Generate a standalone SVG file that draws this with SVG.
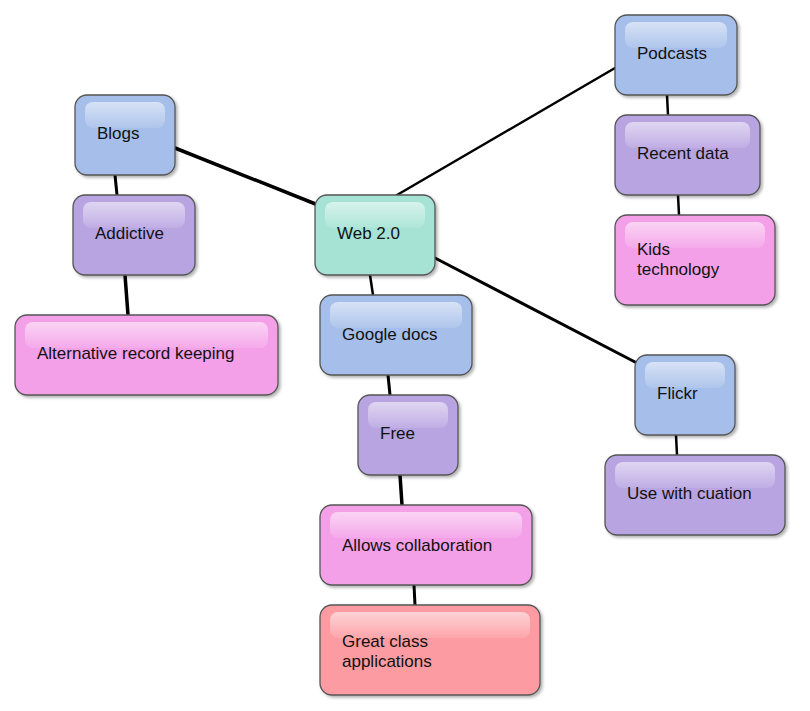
<svg xmlns="http://www.w3.org/2000/svg" width="810" height="711" viewBox="0 0 810 711">
<defs>
<linearGradient id="gl" x1="0" y1="0" x2="0" y2="1"><stop offset="0" stop-color="#fff" stop-opacity="0.55"/><stop offset="1" stop-color="#fff" stop-opacity="0.1"/></linearGradient>
<filter id="sh" x="-10%" y="-10%" width="130%" height="130%"><feDropShadow dx="2" dy="2" stdDeviation="1.5" flood-opacity="0.3"/></filter>
</defs>
<style>
.b{stroke:#555;stroke-width:1.3;filter:url(#sh)}
.g{fill:url(#gl)}
.blue{fill:#a6bfea}.purple{fill:#b9a4e2}.pink{fill:#f4a0e8}.teal{fill:#a6e3d4}.red{fill:#fc9ca2}
text{font-family:"Liberation Sans",Arial,sans-serif;font-size:17px;fill:#111}
.c line{stroke:#000;stroke-linecap:round}
</style>
<rect width="810" height="711" fill="#fff"/>
<g class="c">
<line x1="175" y1="148" x2="318" y2="205" stroke-width="3.5"/>
<line x1="615" y1="68" x2="397" y2="195" stroke-width="2.5"/>
<line x1="435" y1="258" x2="635" y2="362" stroke-width="3"/>
<line x1="370" y1="275" x2="373" y2="295" stroke-width="2.5"/>
<line x1="115" y1="175" x2="117" y2="195" stroke-width="3"/>
<line x1="125" y1="275" x2="128" y2="315" stroke-width="3.5"/>
<line x1="667" y1="95" x2="668" y2="115" stroke-width="2.5"/>
<line x1="678" y1="195" x2="679" y2="215" stroke-width="2.5"/>
<line x1="388" y1="375" x2="390" y2="395" stroke-width="3"/>
<line x1="400" y1="475" x2="402" y2="505" stroke-width="3.5"/>
<line x1="676" y1="435" x2="677" y2="455" stroke-width="2.5"/>
<line x1="414" y1="585" x2="415" y2="605" stroke-width="3"/>
</g>
<g id="podcasts"><rect class="b blue" x="615" y="15" width="122" height="80" rx="12"/><rect class="g" x="625" y="22" width="102" height="26" rx="8"/><text x="637" y="59">Podcasts</text></g>
<g id="blogs"><rect class="b blue" x="75" y="95" width="100" height="80" rx="12"/><rect class="g" x="85" y="102" width="80" height="26" rx="8"/><text x="97" y="139">Blogs</text></g>
<g id="recent"><rect class="b purple" x="615" y="115" width="145" height="80" rx="12"/><rect class="g" x="625" y="122" width="125" height="26" rx="8"/><text x="637" y="159">Recent data</text></g>
<g id="addictive"><rect class="b purple" x="73" y="195" width="122" height="80" rx="12"/><rect class="g" x="83" y="202" width="102" height="26" rx="8"/><text x="95" y="239">Addictive</text></g>
<g id="web"><rect class="b teal" x="315" y="195" width="120" height="80" rx="12"/><rect class="g" x="325" y="202" width="100" height="26" rx="8"/><text x="337" y="239">Web 2.0</text></g>
<g id="kids"><rect class="b pink" x="615" y="215" width="160" height="90" rx="12"/><rect class="g" x="625" y="222" width="140" height="26" rx="8"/><text x="637" y="255">Kids</text><text x="637" y="275">technology</text></g>
<g id="alt"><rect class="b pink" x="15" y="315" width="263" height="80" rx="12"/><rect class="g" x="25" y="322" width="243" height="26" rx="8"/><text x="37" y="359">Alternative record keeping</text></g>
<g id="google"><rect class="b blue" x="320" y="295" width="152" height="80" rx="12"/><rect class="g" x="330" y="302" width="132" height="26" rx="8"/><text x="342" y="340">Google docs</text></g>
<g id="flickr"><rect class="b blue" x="635" y="355" width="100" height="80" rx="12"/><rect class="g" x="645" y="362" width="80" height="26" rx="8"/><text x="657" y="399">Flickr</text></g>
<g id="free"><rect class="b purple" x="358" y="395" width="100" height="80" rx="12"/><rect class="g" x="368" y="402" width="80" height="26" rx="8"/><text x="380" y="439">Free</text></g>
<g id="use"><rect class="b purple" x="605" y="455" width="180" height="80" rx="12"/><rect class="g" x="615" y="462" width="160" height="26" rx="8"/><text x="627" y="499">Use with cuation</text></g>
<g id="allows"><rect class="b pink" x="320" y="505" width="212" height="80" rx="12"/><rect class="g" x="330" y="512" width="192" height="26" rx="8"/><text x="342" y="551">Allows collaboration</text></g>
<g id="great"><rect class="b red" x="320" y="605" width="220" height="90" rx="12"/><rect class="g" x="330" y="612" width="200" height="26" rx="8"/><text x="342" y="647">Great class</text><text x="342" y="667">applications</text></g>
</svg>
